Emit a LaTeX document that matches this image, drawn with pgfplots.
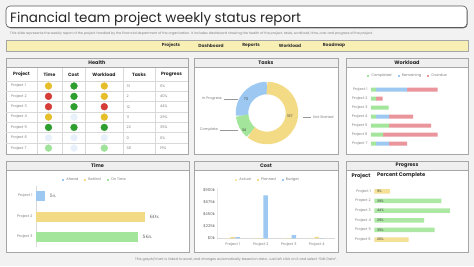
\documentclass[border=0pt]{standalone}
\usepackage{pgfplots}
\pgfplotsset{compat=1.18}
\usepackage{fontspec}
\setmainfont{Poppins}

\definecolor{slidebg}{HTML}{F2F2F2}
\definecolor{panelborder}{HTML}{A6A6A6}
\definecolor{hdr}{HTML}{EFEFEF}
\definecolor{navfill}{HTML}{F8EFB4}
\definecolor{cBlue}{HTML}{9DC8F2}
\definecolor{cYellow}{HTML}{F2DB84}
\definecolor{cYellowL}{HTML}{F6E7A6}
\definecolor{cGreen}{HTML}{A3E59A}
\definecolor{cRed}{HTML}{E9959B}
\definecolor{dYellow}{HTML}{E5BE2A}
\definecolor{dRed}{HTML}{D63C38}
\definecolor{dGreen}{HTML}{2E9E2E}
\definecolor{dPale}{HTML}{E8F1FB}
\definecolor{dLight}{HTML}{A0E39B}
\definecolor{txtgray}{HTML}{7F7F7F}
\definecolor{gridc}{HTML}{D9D9D9}

\newcommand\fs[1]{\fontsize{#1}{#1}\selectfont}

% one dashboard panel: x1 y1 x2 y2 title (y grows downwards)
\newcommand\panel[5]{%
  \fill[white] (#1,#2) rectangle (#3,#4);
  \fill[hdr] (#1,#2) rectangle (#3,#2+9.5);
  \draw[panelborder, line width=0.6pt] (#1,#2) rectangle (#3,#4);
  \draw[panelborder, line width=0.4pt] (#1,#2+9.5) -- (#3,#2+9.5);
  \node[font=\fs{5}\bfseries, text=black!85] at ({(#1+#3)/2},#2+4.9) {#5};
}

\pgfplotsset{
  minilegend/.style={
    legend image code/.code={\fill[##1] (0pt,-1.1pt) rectangle (2.2pt,1.1pt);},
    legend style={draw=none, fill=none, font=\fs{3.6}, text=txtgray,
      inner sep=0pt, legend columns=-1,
      /tikz/every even column/.append style={column sep=4pt}},
  },
  barlabels/.style={
    yticklabel style={font=\fs{3.6}, text=txtgray},
    major tick length=0pt,
  },
}

% task counts for the donut
\def\tProg{73}
\def\tComp{34}
\def\tNot{167}
\pgfmathsetmacro\tTot{\tProg+\tComp+\tNot}
\pgfmathsetmacro\dProg{\tProg/\tTot*360}
\pgfmathsetmacro\dComp{\tComp/\tTot*360}
\pgfmathsetmacro\dNot{\tNot/\tTot*360}
\pgfmathsetmacro\aComp{90+\dProg}
\pgfmathsetmacro\aNot{90+\dProg+\dComp}

\begin{document}
\begin{tikzpicture}
\begin{scope}[x=1pt,y=-1pt]
  \fill[slidebg] (0,0) rectangle (474,266);
  % title bar
  \fill[black!55, rounded corners=4pt] (6.6,6.8) rectangle (467.6,28.3);
  \draw[rounded corners=4pt, fill=white, draw=black!65, line width=0.6pt] (6,6) rectangle (467,27.5);
  \node[anchor=base west, font=\fs{13.5}, text=black!85, inner sep=0pt] at (10,22.3)
    {Financial team project weekly status report};
  \node[anchor=base west, font=\fs{3.3}, text=txtgray, inner sep=0pt] at (10,34.5)
    {This slide represents the weekly report of the project handled by the financial department of the organization. It includes dashboard showing the health of the project, tasks, workload, time, cost and progress of the project.};
  % navigation strip
  \draw[fill=navfill, draw=panelborder, line width=0.5pt] (6,40) rectangle (468,51);
  \begin{scope}[every node/.style={font=\fs{4.4}\bfseries, text=black!80}]
    \node at (171,45.5) {Projects};
    \node at (211,45.5) {Dashboard};
    \node at (251,45.5) {Reports};
    \node at (290,45.5) {Workload};
    \node at (334,45.5) {Roadmap};
  \end{scope}
  % panels
  \panel{6}{58}{188}{154}{Health}
  \panel{194}{58}{338}{154}{Tasks}
  \panel{346}{58}{468}{154}{Workload}
  \panel{6}{161}{189}{252}{Time}
  \panel{194}{161}{338}{252}{Cost}
  \panel{346}{161}{468}{252}{Progress}
  % health table rules
  \foreach \yy in {80.8,91.15,101.5,111.85,122.2,132.55,142.9}
    \draw[gridc, line width=0.4pt] (6,\yy) -- (188,\yy);
  \foreach \xx in {37,62,85,123,155}
    \draw[gridc, line width=0.4pt] (\xx,67.5) -- (\xx,154);
  \begin{scope}[every node/.style={font=\fs{4.6}\bfseries, text=black!85}]
    \node at (21.5,74.5) {Project};
    \node at (49.5,74.5) {Time};
    \node at (73.5,74.5) {Cost};
    \node at (104,74.5) {Workload};
    \node at (139,74.5) {Tasks};
    \node at (171.5,74.5) {Progress};
  \end{scope}
  % progress panel heading
  \node[anchor=west, font=\fs{5.2}\bfseries, text=black!85, inner sep=0pt] at (351.5,175.7) {Project};
  \node[anchor=west, font=\fs{5.2}\bfseries, text=black!85, inner sep=0pt] at (377,175.7) {Percent Complete};
  \draw[gridc!60, line width=0.3pt] (217,188) -- (217,238.3);
  % footnote
  \node[font=\fs{3.4}, text=txtgray] at (236,259)
    {This graph/chart is linked to excel, and changes automatically based on data. Just left click on it and select “Edit Data”.};
\end{scope}

% ---------------- Health ----------------
\begin{axis}[at={(0pt,-75.65pt)}, anchor=north west, x=1pt, y=10.35pt,
  xmin=0, xmax=190, ymin=0, ymax=8, y dir=reverse, hide axis, clip=false]
  \addplot[scatter, only marks, mark=*, mark size=3.4pt,
    point meta=explicit symbolic,
    scatter/classes={
      Y={mark=*, fill=dYellow, draw=dYellow},
      R={mark=*, fill=dRed, draw=dRed},
      G={mark=*, fill=dGreen, draw=dGreen},
      P={mark=*, fill=dPale, draw=dPale},
      L={mark=*, fill=dLight, draw=dLight}}]
  table[meta=s] {
    x     y s
    48.5  1 Y
    74    1 G
    104.3 1 Y
    48.5  2 R
    74    2 G
    104.3 2 Y
    48.5  3 R
    74    3 G
    104.3 3 R
    48.5  4 Y
    74    4 P
    104.3 4 Y
    48.5  5 G
    74    5 G
    104.3 5 G
    48.5  6 P
    74    6 P
    104.3 6 P
    48.5  7 L
    74    7 P
    104.3 7 L
  };
  \begin{scope}[every node/.style={font=\fs{3.6}, text=txtgray, anchor=west, inner sep=0pt}]
    \node at (axis cs:11,1) {Project 1};
    \node at (axis cs:11,2) {Project 2};
    \node at (axis cs:11,3) {Project 3};
    \node at (axis cs:11,4) {Project 4};
    \node at (axis cs:11,5) {Project 5};
    \node at (axis cs:11,6) {Project 6};
    \node at (axis cs:11,7) {Project 7};
    \node at (axis cs:126.5,1) {31};
    \node at (axis cs:126.5,2) {2};
    \node at (axis cs:126.5,3) {12};
    \node at (axis cs:126.5,4) {11};
    \node at (axis cs:126.5,5) {22};
    \node at (axis cs:126.5,6) {0};
    \node at (axis cs:126.5,7) {30};
    \node at (axis cs:160,1) {0\%};
    \node at (axis cs:160,2) {40\%};
    \node at (axis cs:160,3) {44\%};
    \node at (axis cs:160,4) {29\%};
    \node at (axis cs:160,5) {35\%};
    \node at (axis cs:160,6) {0\%};
    \node at (axis cs:160,7) {19\%};
  \end{scope}
\end{axis}

% ---------------- Tasks donut ----------------
\begin{axis}[at={(267pt,-113pt)}, anchor=center, x=1pt, y=1pt,
  xmin=-72, xmax=72, ymin=-45, ymax=45, hide axis, clip=false]
  \draw[cBlue, line width=12.5pt] (axis cs:0,25)
    arc[start angle=90, delta angle=\dProg, radius=25pt];
  \draw[cGreen, line width=12.5pt] (axis cs:{25*cos(\aComp)},{25*sin(\aComp)})
    arc[start angle=\aComp, delta angle=\dComp, radius=25pt];
  \draw[cYellow, line width=12.5pt] (axis cs:{25*cos(\aNot)},{25*sin(\aNot)})
    arc[start angle=\aNot, delta angle=\dNot, radius=25pt];
  \begin{scope}[every node/.style={font=\fs{3.6}, inner sep=0pt}]
    \node[text=black!75] at (axis cs:-21,14) {\tProg};
    \node[text=black!75] at (axis cs:-23,-17) {\tComp};
    \node[text=black!75] at (axis cs:23,-3) {\tNot};
    \node[anchor=east, text=txtgray] at (axis cs:-45,14) {In Progress};
    \node[anchor=east, text=txtgray] at (axis cs:-49,-17) {Complete};
    \node[anchor=west, text=txtgray] at (axis cs:46,-4) {Not Started};
  \end{scope}
  \draw[gridc!70!black, line width=0.3pt] (axis cs:-43,14) -- (axis cs:-29,14);
  \draw[gridc!70!black, line width=0.3pt] (axis cs:-47,-17) -- (axis cs:-29,-17);
  \draw[gridc!70!black, line width=0.3pt] (axis cs:36,-4) -- (axis cs:44,-4);
\end{axis}

% ---------------- Workload ----------------
\begin{axis}[at={(371pt,-85.2pt)}, anchor=north west, x=5pt, y=9pt,
  xmin=0, xmax=14, ymin=0.5, ymax=7.5, y dir=reverse,
  xbar stacked, bar width=4pt, clip=false,
  axis line style={draw=none}, xtick=\empty,
  ytick={1,...,7},
  yticklabels={Project 1,Project 2,Project 3,Project 4,Project 5,Project 6,Project 7},
  barlabels, minilegend,
  legend style={at={(axis cs:7.4,-0.52)}, anchor=center}]
  \addplot[fill=cGreen, draw=none] coordinates
    {(1,1) (1,2) (3.5,3) (1,4) (3.6,5) (2.4,6) (1,7)};
  \addplot[fill=cBlue, draw=none] coordinates
    {(6.2,1) (0,2) (0,3) (2.6,4) (0,5) (0,6) (2.6,7)};
  \addplot[fill=cRed, draw=none] coordinates
    {(6.1,1) (1.3,2) (0,3) (4.8,4) (8.4,5) (10.9,6) (3.6,7)};
  \legend{Completed,Remaining,Overdue}
\end{axis}

% ---------------- Time ----------------
\begin{axis}[at={(36pt,-185.75pt)}, anchor=north west, x=1.817pt, y=20.5pt,
  xmin=0, xmax=75, ymin=0.5, ymax=3.5, y dir=reverse,
  xbar, bar width=10pt, bar shift=0pt, clip=false,
  axis x line=none, axis y line*=left, y axis line style={gridc, line width=0.4pt},
  ytick={1,2,3}, yticklabels={Project 1,Project 2,Project 3},
  barlabels, minilegend,
  point meta=x,
  nodes near coords={\pgfmathprintnumber{\pgfplotspointmeta}\%},
  nodes near coords style={font=\fs{3.4}, text=black!75, anchor=west, xshift=1pt},
  legend style={at={(axis cs:32.5,0.22)}, anchor=center}]
  \addplot[fill=cBlue, draw=none] coordinates {(5,1)};
  \addplot[fill=cYellow, draw=none] coordinates {(60,2)};
  \addplot[fill=cGreen, draw=none] coordinates {(56,3)};
  \legend{Ahead,Behind,On Time}
\end{axis}

% ---------------- Cost ----------------
\begin{axis}[at={(217pt,-238.3pt)}, anchor=south west, scale only axis,
  width=118pt, height=48.3pt, xmin=-0.56, xmax=3.65, ymin=0, ymax=900,
  ybar=0.5pt, bar width=4.5pt, clip=false,
  axis x line*=bottom,
  x axis line style={gridc, line width=0.5pt}, y axis line style={draw=none},
  major tick length=0pt,
  xtick={0,1,2,3}, xticklabels={Project 1,Project 2,Project 3,Project 4},
  ytick=\empty,
  xticklabel style={font=\fs{3.6}, text=txtgray, yshift=-1pt},
  minilegend,
  legend style={at={(axis cs:1.26,1086)}, anchor=center}]
  \addplot[fill=cYellowL, draw=none] coordinates {(0,5) (1,3) (2,5) (3,5)};
  \addplot[fill=cYellow, draw=none] coordinates {(0,20) (1,5) (2,5) (3,25)};
  \addplot[fill=cBlue, draw=none] coordinates {(0,20) (1,800) (2,60) (3,5)};
  \legend{Actual,Planned,Budget}
\end{axis}

% ---------------- Progress ----------------
\begin{axis}[at={(374.3pt,-186.5pt)}, anchor=north west, x=1.72pt, y=9.65pt,
  xmin=0, xmax=55, ymin=0.5, ymax=6.5, y dir=reverse,
  xbar, bar width=4.5pt, bar shift=0pt, clip=false,
  axis line style={draw=none}, xtick=\empty,
  ytick={1,...,6},
  yticklabels={Project 1,Project 2,Project 3,Project 4,Project 5,Project 6},
  barlabels]
  \addplot[fill=cYellow!85, draw=none] coordinates {(9,1) (20,6)};
  \addplot[fill=cGreen!90, draw=none] coordinates {(39,2) (44,3) (29,4) (35,5)};
  \begin{scope}[every node/.style={font=\fs{3.4}, text=black!75, anchor=west, inner sep=0pt}]
    \node at (axis cs:1.5,1) {9\%};
    \node at (axis cs:1.5,2) {39\%};
    \node at (axis cs:1.5,3) {44\%};
    \node at (axis cs:1.5,4) {29\%};
    \node at (axis cs:1.5,5) {35\%};
    \node at (axis cs:1.5,6) {20\%};
  \end{scope}
\end{axis}

% cost scale labels, set on top of everything else
\begin{scope}[x=1pt,y=-1pt]
  \node[font=\fs{3.9}, text=black!62, anchor=east, inner sep=0pt] at (215,238.3) {\$0k};
  \node[font=\fs{3.9}, text=black!62, anchor=east, inner sep=0pt] at (215,226.2) {\$225k};
  \node[font=\fs{3.9}, text=black!62, anchor=east, inner sep=0pt] at (215,214.2) {\$450k};
  \node[font=\fs{3.9}, text=black!62, anchor=east, inner sep=0pt] at (215,202.1) {\$675k};
  \node[font=\fs{3.9}, text=black!62, anchor=east, inner sep=0pt] at (215,190.0) {\$900k};
\end{scope}
\end{tikzpicture}
\end{document}
